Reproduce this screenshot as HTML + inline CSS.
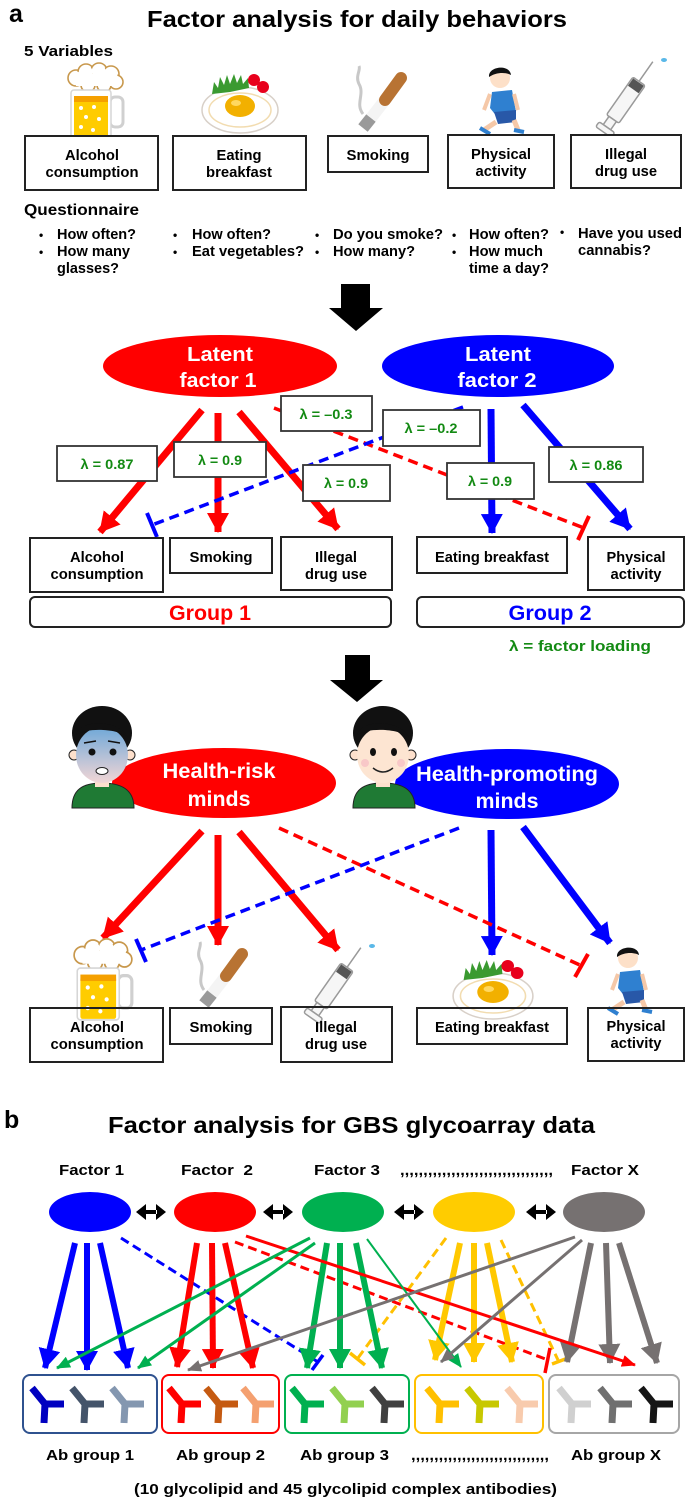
<!DOCTYPE html>
<html><head><meta charset="utf-8"><style>
html,body{margin:0;padding:0;background:#fff;}
svg{display:block;}
text{font-family:"Liberation Sans",Arial,sans-serif;font-weight:bold;}
</style></head><body>
<svg width="685" height="1504" viewBox="0 0 685 1504" xmlns="http://www.w3.org/2000/svg">
<defs>
<marker id="mR" viewBox="0 0 20 22" refX="19" refY="11" markerWidth="20" markerHeight="22" markerUnits="userSpaceOnUse" orient="auto"><path d="M0,0 L20,11 L0,22z" fill="#ff0000"/></marker>
<marker id="mB" viewBox="0 0 20 22" refX="19" refY="11" markerWidth="20" markerHeight="22" markerUnits="userSpaceOnUse" orient="auto"><path d="M0,0 L20,11 L0,22z" fill="#0000ff"/></marker>
<marker id="mG" viewBox="0 0 20 22" refX="19" refY="11" markerWidth="20" markerHeight="22" markerUnits="userSpaceOnUse" orient="auto"><path d="M0,0 L20,11 L0,22z" fill="#00b050"/></marker>
<marker id="mY" viewBox="0 0 20 22" refX="19" refY="11" markerWidth="20" markerHeight="22" markerUnits="userSpaceOnUse" orient="auto"><path d="M0,0 L20,11 L0,22z" fill="#ffc800"/></marker>
<marker id="mK" viewBox="0 0 20 22" refX="19" refY="11" markerWidth="20" markerHeight="22" markerUnits="userSpaceOnUse" orient="auto"><path d="M0,0 L20,11 L0,22z" fill="#767171"/></marker>
<marker id="tR" viewBox="0 0 14 12" refX="13" refY="6" markerWidth="14" markerHeight="12" markerUnits="userSpaceOnUse" orient="auto"><path d="M0,0 L14,6 L0,12z" fill="#ff0000"/></marker>
<marker id="tG" viewBox="0 0 14 12" refX="13" refY="6" markerWidth="14" markerHeight="12" markerUnits="userSpaceOnUse" orient="auto"><path d="M0,0 L14,6 L0,12z" fill="#00b050"/></marker>
<marker id="tK" viewBox="0 0 14 12" refX="13" refY="6" markerWidth="14" markerHeight="12" markerUnits="userSpaceOnUse" orient="auto"><path d="M0,0 L14,6 L0,12z" fill="#767171"/></marker>
<linearGradient id="sad" x1="0" y1="0" x2="0" y2="1"><stop offset="0" stop-color="#6fa8d8"/><stop offset="1" stop-color="#f2d6d6"/></linearGradient>

<g id="beer">
  <g fill="#fff" stroke="#c8984c" stroke-width="1.6">
    <circle cx="10" cy="14" r="8"/><circle cx="20" cy="8" r="8"/><circle cx="33" cy="7" r="8"/><circle cx="45" cy="10" r="8"/><circle cx="50" cy="18" r="7"/><circle cx="38" cy="21" r="7"/><circle cx="22" cy="21" r="7"/>
  </g>
  <g fill="#fff"><circle cx="10" cy="14" r="6.5"/><circle cx="20" cy="8" r="6.5"/><circle cx="33" cy="7" r="6.5"/><circle cx="45" cy="10" r="6.5"/><circle cx="50" cy="18" r="5.5"/><circle cx="38" cy="21" r="5.5"/><circle cx="22" cy="21" r="5.5"/><rect x="10" y="10" width="36" height="12"/></g>
  <rect x="44" y="33" width="13" height="30" rx="5" fill="none" stroke="#d0d0d0" stroke-width="3"/>
  <rect x="5" y="26" width="40" height="48" rx="3" fill="#fff" stroke="#d6d6d6" stroke-width="1.5"/>
  <rect x="8" y="34" width="34" height="39" rx="2" fill="#ffcc00"/>
  <rect x="8" y="32" width="34" height="6" fill="#f5a000"/>
  <g fill="#fff"><circle cx="15" cy="44" r="2"/><circle cx="28" cy="43" r="2"/><circle cx="20" cy="53" r="2"/><circle cx="33" cy="55" r="2"/><circle cx="15" cy="63" r="2"/><circle cx="27" cy="66" r="2"/></g>
</g>
<g id="egg">
  <ellipse cx="40" cy="38" rx="38" ry="23" fill="#fff" stroke="#d8d0c8" stroke-width="1.5"/>
  <ellipse cx="40" cy="38" rx="31" ry="17" fill="none" stroke="#f2dcb0" stroke-width="1.5"/>
  <path d="M12,22 L14,10 L18,16 L20,5 L24,13 L27,3 L30,12 L34,2 L37,11 L41,3 L43,12 L48,6 L49,16 L30,20 Z" fill="#3a9a30"/>
  <circle cx="54" cy="8" r="6" fill="#e8001c"/><circle cx="63" cy="15" r="6" fill="#e8001c"/>
  <ellipse cx="40" cy="34" rx="15" ry="11" fill="#f2b000"/>
  <ellipse cx="36" cy="31" rx="5" ry="3" fill="#ffd860"/>
</g>
<g id="cig">
  <path d="M12,48 C4,38 14,28 8,18 C4,10 10,4 8,0" fill="none" stroke="#c8c8c8" stroke-width="3"/>
  <line x1="12" y1="62" x2="20" y2="52" stroke="#9a9a9a" stroke-width="12"/>
  <line x1="20" y1="52" x2="34" y2="34" stroke="#f4f4f4" stroke-width="12"/>
  <line x1="34" y1="34" x2="50" y2="12" stroke="#b87333" stroke-width="12" stroke-linecap="round"/>
</g>
<g id="boy">
  <path d="M16,28 L36,26 L40,48 L22,54 L14,44 Z" fill="#2f80d0"/>
  <path d="M18,48 L40,46 L40,58 L22,60 Z" fill="#2858a8"/>
  <path d="M20,58 L8,66 M38,56 L42,66" stroke="#f5c8a8" stroke-width="5"/>
  <path d="M4,64 L14,70 M38,66 L48,68" stroke="#2f80d0" stroke-width="4"/>
  <path d="M14,30 L8,46 M38,30 L42,46" stroke="#f5c8a8" stroke-width="4"/>
  <circle cx="24" cy="14" r="10" fill="#fde0c8"/>
  <path d="M13,13 C12,2 34,0 35,11 C30,8 20,8 13,13Z" fill="#111"/>
</g>
<g id="syr">
  <g transform="rotate(-55 36 40)">
    <rect x="10" y="32" width="46" height="15" rx="2" fill="#f6f6f6" stroke="#9a9a9a" stroke-width="1.5"/>
    <rect x="46" y="33" width="9" height="13" fill="#555"/>
    <line x1="56" y1="39.5" x2="80" y2="39.5" stroke="#999" stroke-width="1.5"/>
    <rect x="0" y="35" width="10" height="9" fill="#f6f6f6" stroke="#9a9a9a" stroke-width="1.5"/>
    <rect x="-6" y="30" width="6" height="19" rx="2" fill="#f6f6f6" stroke="#9a9a9a" stroke-width="1.5"/>
  </g>
  <ellipse cx="72" cy="2" rx="3" ry="2" fill="#5ab8e8"/>
</g>
<g id="face">
  <path d="M4,103 C4,85 14,78 34,78 C54,78 66,85 66,103 Z" fill="#1f7a34" stroke="#222" stroke-width="1"/>
  <rect x="27" y="68" width="14" height="14" fill="#fde0cc"/>
  <ellipse cx="34" cy="28" rx="30" ry="27" fill="#111"/>
  <circle cx="6" cy="50" r="5" fill="#fde0cc" stroke="#222"/><circle cx="62" cy="50" r="5" fill="#fde0cc" stroke="#222"/>
</g>
</defs>

<!-- ===== Section a ===== -->
<text x="9" y="22" font-size="25">a</text>
<text x="147" y="27" font-size="23" textLength="420" lengthAdjust="spacingAndGlyphs">Factor analysis for daily behaviors</text>
<text x="24" y="56" font-size="15" textLength="89" lengthAdjust="spacingAndGlyphs">5 Variables</text>

<use href="#beer" transform="translate(66,64)"/>
<use href="#egg" transform="translate(200,72)"/>
<use href="#cig" transform="translate(351,66)"/>
<use href="#boy" transform="translate(476,64)"/>
<use href="#syr" transform="translate(592,58)"/>

<g fill="#fff" stroke="#222" stroke-width="2">
<rect x="25" y="136" width="133" height="54"/>
<rect x="173" y="136" width="133" height="54"/>
<rect x="328" y="136" width="100" height="36"/>
<rect x="448" y="135" width="106" height="53"/>
<rect x="571" y="135" width="110" height="53"/>
</g>
<g font-size="15" text-anchor="middle">
<text x="92" y="160" textLength="54" lengthAdjust="spacingAndGlyphs">Alcohol</text>
<text x="92" y="177" textLength="93" lengthAdjust="spacingAndGlyphs">consumption</text>
<text x="239" y="160" textLength="45" lengthAdjust="spacingAndGlyphs">Eating</text>
<text x="239" y="177" textLength="66" lengthAdjust="spacingAndGlyphs">breakfast</text>
<text x="378" y="160" textLength="63" lengthAdjust="spacingAndGlyphs">Smoking</text>
<text x="501" y="159" textLength="60" lengthAdjust="spacingAndGlyphs">Physical</text>
<text x="501" y="176" textLength="51" lengthAdjust="spacingAndGlyphs">activity</text>
<text x="626" y="159" textLength="42" lengthAdjust="spacingAndGlyphs">Illegal</text>
<text x="626" y="176" textLength="62" lengthAdjust="spacingAndGlyphs">drug use</text>
</g>
<text x="24" y="215" font-size="16" textLength="115" lengthAdjust="spacingAndGlyphs">Questionnaire</text>
<g font-size="15">
<text x="39" y="239" font-size="12">•</text><text x="57" y="239" textLength="79" lengthAdjust="spacingAndGlyphs">How often?</text>
<text x="39" y="256" font-size="12">•</text><text x="57" y="256" textLength="73" lengthAdjust="spacingAndGlyphs">How many</text>
<text x="57" y="273" textLength="62" lengthAdjust="spacingAndGlyphs">glasses?</text>
<text x="173" y="239" font-size="12">•</text><text x="192" y="239" textLength="79" lengthAdjust="spacingAndGlyphs">How often?</text>
<text x="173" y="256" font-size="12">•</text><text x="192" y="256" textLength="112" lengthAdjust="spacingAndGlyphs">Eat vegetables?</text>
<text x="315" y="239" font-size="12">•</text><text x="333" y="239" textLength="110" lengthAdjust="spacingAndGlyphs">Do you smoke?</text>
<text x="315" y="256" font-size="12">•</text><text x="333" y="256" textLength="82" lengthAdjust="spacingAndGlyphs">How many?</text>
<text x="452" y="239" font-size="12">•</text><text x="469" y="239" textLength="80" lengthAdjust="spacingAndGlyphs">How often?</text>
<text x="452" y="256" font-size="12">•</text><text x="469" y="256" textLength="74" lengthAdjust="spacingAndGlyphs">How much</text>
<text x="469" y="273" textLength="80" lengthAdjust="spacingAndGlyphs">time a day?</text>
<text x="560" y="236" font-size="12">•</text><text x="578" y="238" textLength="104" lengthAdjust="spacingAndGlyphs">Have you used</text>
<text x="578" y="255" textLength="73" lengthAdjust="spacingAndGlyphs">cannabis?</text>
</g>
<path d="M341,284 L370,284 L370,308 L383,308 L356,331 L329,308 L341,308 Z" fill="#000"/>

<ellipse cx="220" cy="366" rx="117" ry="31" fill="#ff0000"/>
<ellipse cx="498" cy="366" rx="116" ry="31" fill="#0000ff"/>
<g fill="#fff" font-size="20" text-anchor="middle">
<text x="220" y="361" textLength="66" lengthAdjust="spacingAndGlyphs">Latent</text>
<text x="218" y="387" textLength="77" lengthAdjust="spacingAndGlyphs">factor 1</text>
<text x="498" y="361" textLength="66" lengthAdjust="spacingAndGlyphs">Latent</text>
<text x="497" y="387" textLength="79" lengthAdjust="spacingAndGlyphs">factor 2</text>
</g>
<g stroke-width="7" fill="none">
<line x1="202" y1="410" x2="100" y2="532" stroke="#ff0000" marker-end="url(#mR)"/>
<line x1="218" y1="413" x2="218" y2="532" stroke="#ff0000" marker-end="url(#mR)"/>
<line x1="239" y1="412" x2="338" y2="529" stroke="#ff0000" marker-end="url(#mR)"/>
<line x1="491" y1="409" x2="492" y2="533" stroke="#0000ff" marker-end="url(#mB)"/>
<line x1="523" y1="405" x2="630" y2="529" stroke="#0000ff" marker-end="url(#mB)"/>
</g>
<g stroke-width="3.5" fill="none" stroke-dasharray="10,6">
<line x1="274" y1="408" x2="584" y2="528" stroke="#ff0000"/>
<line x1="463" y1="407" x2="152" y2="525" stroke="#0000ff"/>
</g>
<line x1="578" y1="540" x2="589" y2="516" stroke="#ff0000" stroke-width="4"/>
<line x1="147" y1="513" x2="157" y2="537" stroke="#0000ff" stroke-width="4"/>

<g fill="#fff" stroke="#333" stroke-width="1.8">
<rect x="57" y="446" width="100" height="35"/>
<rect x="174" y="442" width="92" height="35"/>
<rect x="303" y="465" width="87" height="36"/>
<rect x="281" y="396" width="91" height="35"/>
<rect x="383" y="410" width="97" height="36"/>
<rect x="447" y="463" width="87" height="36"/>
<rect x="549" y="447" width="94" height="35"/>
</g>
<g fill="#138a13" font-size="14" text-anchor="middle">
<text x="107" y="469" textLength="53" lengthAdjust="spacingAndGlyphs">λ = 0.87</text>
<text x="220" y="465" textLength="44" lengthAdjust="spacingAndGlyphs">λ = 0.9</text>
<text x="346" y="488" textLength="44" lengthAdjust="spacingAndGlyphs">λ = 0.9</text>
<text x="326" y="419" textLength="53" lengthAdjust="spacingAndGlyphs">λ = –0.3</text>
<text x="431" y="433" textLength="53" lengthAdjust="spacingAndGlyphs">λ = –0.2</text>
<text x="490" y="486" textLength="44" lengthAdjust="spacingAndGlyphs">λ = 0.9</text>
<text x="596" y="470" textLength="53" lengthAdjust="spacingAndGlyphs">λ = 0.86</text>
</g>

<g fill="#fff" stroke="#222" stroke-width="2">
<rect x="30" y="538" width="133" height="54"/>
<rect x="170" y="538" width="102" height="35"/>
<rect x="281" y="537" width="111" height="53"/>
<rect x="417" y="537" width="150" height="36"/>
<rect x="588" y="537" width="96" height="53"/>
<rect x="30" y="597" width="361" height="30" rx="5"/>
<rect x="417" y="597" width="267" height="30" rx="5"/>
</g>
<g font-size="15" text-anchor="middle">
<text x="97" y="562" textLength="54" lengthAdjust="spacingAndGlyphs">Alcohol</text>
<text x="97" y="579" textLength="93" lengthAdjust="spacingAndGlyphs">consumption</text>
<text x="221" y="562" textLength="63" lengthAdjust="spacingAndGlyphs">Smoking</text>
<text x="336" y="562" textLength="42" lengthAdjust="spacingAndGlyphs">Illegal</text>
<text x="336" y="579" textLength="62" lengthAdjust="spacingAndGlyphs">drug use</text>
<text x="492" y="562" textLength="114" lengthAdjust="spacingAndGlyphs">Eating breakfast</text>
<text x="636" y="562" textLength="59" lengthAdjust="spacingAndGlyphs">Physical</text>
<text x="636" y="579" textLength="51" lengthAdjust="spacingAndGlyphs">activity</text>
</g>
<text x="210" y="620" font-size="21" fill="#ff0000" text-anchor="middle" textLength="82" lengthAdjust="spacingAndGlyphs">Group 1</text>
<text x="550" y="620" font-size="21" fill="#0000ff" text-anchor="middle" textLength="83" lengthAdjust="spacingAndGlyphs">Group 2</text>
<text x="509" y="651" font-size="15" fill="#138a13" textLength="142" lengthAdjust="spacingAndGlyphs">λ = factor loading</text>

<path d="M345,655 L370,655 L370,680 L383,680 L357,702 L330,680 L345,680 Z" fill="#000"/>

<ellipse cx="224" cy="783" rx="112" ry="35" fill="#ff0000"/>
<ellipse cx="507" cy="784" rx="112" ry="35" fill="#0000ff"/>
<g transform="translate(68,705)">
  <use href="#face"/>
  <ellipse cx="34" cy="50" rx="26" ry="28" fill="url(#sad)"/>
  <path d="M8,30 C12,14 50,14 60,32 C50,24 20,22 8,30Z" fill="#111"/>
  <circle cx="24" cy="47" r="3.5" fill="#111"/><circle cx="45" cy="47" r="3.5" fill="#111"/>
  <path d="M16,38 L28,36 M40,36 L52,38" stroke="#111" stroke-width="1.5"/>
  <ellipse cx="34" cy="66" rx="6" ry="3.5" fill="#fff" stroke="#222"/>
</g>
<g transform="translate(349,705)">
  <use href="#face"/>
  <ellipse cx="34" cy="50" rx="26" ry="28" fill="#fde5d2"/>
  <path d="M8,30 C12,14 50,14 60,32 C50,24 20,22 8,30Z" fill="#111"/>
  <ellipse cx="24" cy="47" rx="3" ry="4" fill="#111"/><ellipse cx="45" cy="47" rx="3" ry="4" fill="#111"/>
  <path d="M24,63 Q34,71 44,63" fill="none" stroke="#222" stroke-width="1.5"/>
  <circle cx="16" cy="58" r="4" fill="#f8c8c8"/><circle cx="52" cy="58" r="4" fill="#f8c8c8"/>
</g>
<g fill="#fff" font-size="21" text-anchor="middle">
<text x="219" y="778" textLength="113" lengthAdjust="spacingAndGlyphs">Health-risk</text>
<text x="219" y="806" textLength="63" lengthAdjust="spacingAndGlyphs">minds</text>
<text x="507" y="781" textLength="182" lengthAdjust="spacingAndGlyphs">Health-promoting</text>
<text x="507" y="808" textLength="63" lengthAdjust="spacingAndGlyphs">minds</text>
</g>
<g stroke-width="7" fill="none">
<line x1="202" y1="831" x2="103" y2="938" stroke="#ff0000" marker-end="url(#mR)"/>
<line x1="218" y1="835" x2="218" y2="945" stroke="#ff0000" marker-end="url(#mR)"/>
<line x1="239" y1="832" x2="338" y2="950" stroke="#ff0000" marker-end="url(#mR)"/>
<line x1="491" y1="830" x2="492" y2="955" stroke="#0000ff" marker-end="url(#mB)"/>
<line x1="523" y1="827" x2="610" y2="943" stroke="#0000ff" marker-end="url(#mB)"/>
</g>
<g stroke-width="3.5" fill="none" stroke-dasharray="10,6">
<line x1="279" y1="828" x2="582" y2="966" stroke="#ff0000"/>
<line x1="459" y1="828" x2="141" y2="950" stroke="#0000ff"/>
</g>
<line x1="575" y1="977" x2="588" y2="954" stroke="#ff0000" stroke-width="4"/>
<line x1="136" y1="939" x2="146" y2="962" stroke="#0000ff" stroke-width="4"/>

<use href="#beer" transform="translate(72,940) scale(1.05,1.08)"/>
<use href="#cig" transform="translate(192,942)"/>
<use href="#syr" transform="translate(300,944)"/>
<use href="#egg" transform="translate(451,958) scale(1.05,1)"/>
<use href="#boy" transform="translate(604,944)"/>

<g fill="none" stroke="#222" stroke-width="2">
<rect x="30" y="1008" width="133" height="54"/>
<rect x="170" y="1008" width="102" height="36"/>
<rect x="281" y="1007" width="111" height="55"/>
<rect x="417" y="1008" width="150" height="36"/>
<rect x="588" y="1008" width="96" height="53"/>
</g>
<g font-size="15" text-anchor="middle">
<text x="97" y="1032" textLength="54" lengthAdjust="spacingAndGlyphs">Alcohol</text>
<text x="97" y="1049" textLength="93" lengthAdjust="spacingAndGlyphs">consumption</text>
<text x="221" y="1032" textLength="63" lengthAdjust="spacingAndGlyphs">Smoking</text>
<text x="336" y="1032" textLength="42" lengthAdjust="spacingAndGlyphs">Illegal</text>
<text x="336" y="1049" textLength="62" lengthAdjust="spacingAndGlyphs">drug use</text>
<text x="492" y="1032" textLength="114" lengthAdjust="spacingAndGlyphs">Eating breakfast</text>
<text x="636" y="1031" textLength="59" lengthAdjust="spacingAndGlyphs">Physical</text>
<text x="636" y="1048" textLength="51" lengthAdjust="spacingAndGlyphs">activity</text>
</g>

<!-- ===== Section b ===== -->
<text x="4" y="1128" font-size="25">b</text>
<text x="108" y="1133" font-size="23" textLength="487" lengthAdjust="spacingAndGlyphs">Factor analysis for GBS glycoarray data</text>
<g font-size="15">
<text x="59" y="1175" textLength="65" lengthAdjust="spacingAndGlyphs">Factor 1</text>
<text x="181" y="1175" textLength="72" lengthAdjust="spacingAndGlyphs" xml:space="preserve">Factor  2</text>
<text x="314" y="1175" textLength="66" lengthAdjust="spacingAndGlyphs">Factor 3</text>
<text x="400" y="1175" textLength="153" lengthAdjust="spacingAndGlyphs">,,,,,,,,,,,,,,,,,,,,,,,,,,,,,,,,,</text>
<text x="571" y="1175" textLength="68" lengthAdjust="spacingAndGlyphs">Factor X</text>
</g>
<ellipse cx="90" cy="1212" rx="41" ry="20" fill="#0000ff"/>
<ellipse cx="215" cy="1212" rx="41" ry="20" fill="#ff0000"/>
<ellipse cx="343" cy="1212" rx="41" ry="20" fill="#00b050"/>
<ellipse cx="474" cy="1212" rx="41" ry="20" fill="#ffcc00"/>
<ellipse cx="604" cy="1212" rx="41" ry="20" fill="#767171"/>
<g fill="#000">
<path d="M136,1212 L146,1204 L146,1220Z M166,1212 L156,1204 L156,1220Z M145,1210 h12 v4 h-12z"/>
<path d="M263,1212 L273,1204 L273,1220Z M293,1212 L283,1204 L283,1220Z M272,1210 h12 v4 h-12z"/>
<path d="M394,1212 L404,1204 L404,1220Z M424,1212 L414,1204 L414,1220Z M403,1210 h12 v4 h-12z"/>
<path d="M526,1212 L536,1204 L536,1220Z M556,1212 L546,1204 L546,1220Z M535,1210 h12 v4 h-12z"/>
</g>

<g stroke-width="3" fill="none" stroke-dasharray="9,5">
<line x1="121" y1="1238" x2="318" y2="1362" stroke="#0000ff"/>
<line x1="235" y1="1242" x2="548" y2="1360" stroke="#ff0000"/>
<line x1="446" y1="1238" x2="358" y2="1358" stroke="#ffc000"/>
<line x1="501" y1="1240" x2="558" y2="1360" stroke="#ffc000"/>
</g>
<line x1="312" y1="1370" x2="323" y2="1355" stroke="#0000ff" stroke-width="3.5"/>
<line x1="545" y1="1373" x2="550" y2="1348" stroke="#ff0000" stroke-width="3.5"/>
<line x1="350" y1="1353" x2="365" y2="1365" stroke="#ffc000" stroke-width="3.5"/>
<line x1="552" y1="1364" x2="568" y2="1358" stroke="#ffc000" stroke-width="3.5"/>

<g stroke-width="6" fill="none">
<line x1="75" y1="1243" x2="45" y2="1368" stroke="#0000ff" marker-end="url(#mB)"/>
<line x1="87" y1="1243" x2="87" y2="1370" stroke="#0000ff" marker-end="url(#mB)"/>
<line x1="100" y1="1243" x2="128" y2="1368" stroke="#0000ff" marker-end="url(#mB)"/>
<line x1="197" y1="1243" x2="177" y2="1367" stroke="#ff0000" marker-end="url(#mR)"/>
<line x1="212" y1="1243" x2="213" y2="1368" stroke="#ff0000" marker-end="url(#mR)"/>
<line x1="225" y1="1243" x2="253" y2="1368" stroke="#ff0000" marker-end="url(#mR)"/>
<line x1="327" y1="1243" x2="307" y2="1368" stroke="#00b050" marker-end="url(#mG)"/>
<line x1="340" y1="1243" x2="340" y2="1368" stroke="#00b050" marker-end="url(#mG)"/>
<line x1="356" y1="1243" x2="382" y2="1368" stroke="#00b050" marker-end="url(#mG)"/>
<line x1="460" y1="1243" x2="435" y2="1360" stroke="#ffc800" marker-end="url(#mY)"/>
<line x1="474" y1="1243" x2="474" y2="1362" stroke="#ffc800" marker-end="url(#mY)"/>
<line x1="487" y1="1243" x2="512" y2="1362" stroke="#ffc800" marker-end="url(#mY)"/>
<line x1="591" y1="1243" x2="567" y2="1362" stroke="#767171" marker-end="url(#mK)"/>
<line x1="606" y1="1243" x2="610" y2="1363" stroke="#767171" marker-end="url(#mK)"/>
<line x1="619" y1="1243" x2="657" y2="1363" stroke="#767171" marker-end="url(#mK)"/>
</g>
<g stroke-width="3" fill="none">
<line x1="246" y1="1236" x2="635" y2="1365" stroke="#ff0000" marker-end="url(#tR)"/>
<line x1="310" y1="1238" x2="57" y2="1368" stroke="#00b050" marker-end="url(#tG)"/>
<line x1="315" y1="1243" x2="138" y2="1368" stroke="#00b050" marker-end="url(#tG)"/>
<line x1="367" y1="1239" x2="461" y2="1367" stroke="#00b050" stroke-width="2" marker-end="url(#tG)"/>
<line x1="575" y1="1237" x2="188" y2="1370" stroke="#767171" marker-end="url(#tK)"/>
<line x1="582" y1="1240" x2="441" y2="1362" stroke="#767171" marker-end="url(#tK)"/>
</g>

<g fill="#fff" stroke-width="2">
<rect x="23" y="1375" width="134" height="58" rx="7" stroke="#2f528f"/>
<rect x="162" y="1375" width="117" height="58" rx="7" stroke="#ff0000"/>
<rect x="285" y="1375" width="124" height="58" rx="7" stroke="#00b050"/>
<rect x="415" y="1375" width="128" height="58" rx="7" stroke="#ffc000"/>
<rect x="549" y="1375" width="130" height="58" rx="7" stroke="#a6a6a6"/>
</g>
<g fill="none" stroke-width="7" stroke-linejoin="miter">
<path d="M32,1388 L45,1404 L64,1404 M45,1404 L44,1423" stroke="#0000c0"/>
<path d="M72,1388 L85,1404 L104,1404 M85,1404 L84,1423" stroke="#44546a"/>
<path d="M112,1388 L125,1404 L144,1404 M125,1404 L124,1423" stroke="#8497b0"/>
<path d="M169,1388 L182,1404 L201,1404 M182,1404 L181,1423" stroke="#ff0000"/>
<path d="M206,1388 L219,1404 L238,1404 M219,1404 L218,1423" stroke="#c55a11"/>
<path d="M243,1388 L256,1404 L274,1404 M256,1404 L255,1423" stroke="#f4a070"/>
<path d="M292,1388 L305,1404 L324,1404 M305,1404 L304,1423" stroke="#00b050"/>
<path d="M332,1388 L345,1404 L364,1404 M345,1404 L344,1423" stroke="#92d050"/>
<path d="M372,1388 L385,1404 L404,1404 M385,1404 L384,1423" stroke="#404040"/>
<path d="M427,1388 L440,1404 L459,1404 M440,1404 L439,1423" stroke="#ffc000"/>
<path d="M467,1388 L480,1404 L499,1404 M480,1404 L479,1423" stroke="#c8c800"/>
<path d="M507,1388 L520,1404 L538,1404 M520,1404 L519,1423" stroke="#f8cbad"/>
<path d="M559,1388 L572,1404 L591,1404 M572,1404 L571,1423" stroke="#d0d0d0"/>
<path d="M600,1388 L613,1404 L632,1404 M613,1404 L612,1423" stroke="#707070"/>
<path d="M641,1388 L654,1404 L673,1404 M654,1404 L653,1423" stroke="#151515"/>
</g>
<g font-size="15">
<text x="46" y="1460" textLength="88" lengthAdjust="spacingAndGlyphs">Ab group 1</text>
<text x="176" y="1460" textLength="89" lengthAdjust="spacingAndGlyphs">Ab group 2</text>
<text x="300" y="1460" textLength="89" lengthAdjust="spacingAndGlyphs">Ab group 3</text>
<text x="411" y="1460" textLength="138" lengthAdjust="spacingAndGlyphs">,,,,,,,,,,,,,,,,,,,,,,,,,,,,,,</text>
<text x="571" y="1460" textLength="90" lengthAdjust="spacingAndGlyphs">Ab group X</text>
<text x="134" y="1494" textLength="423" lengthAdjust="spacingAndGlyphs">(10 glycolipid and 45 glycolipid complex antibodies)</text>
</g>
</svg>
</body></html>
